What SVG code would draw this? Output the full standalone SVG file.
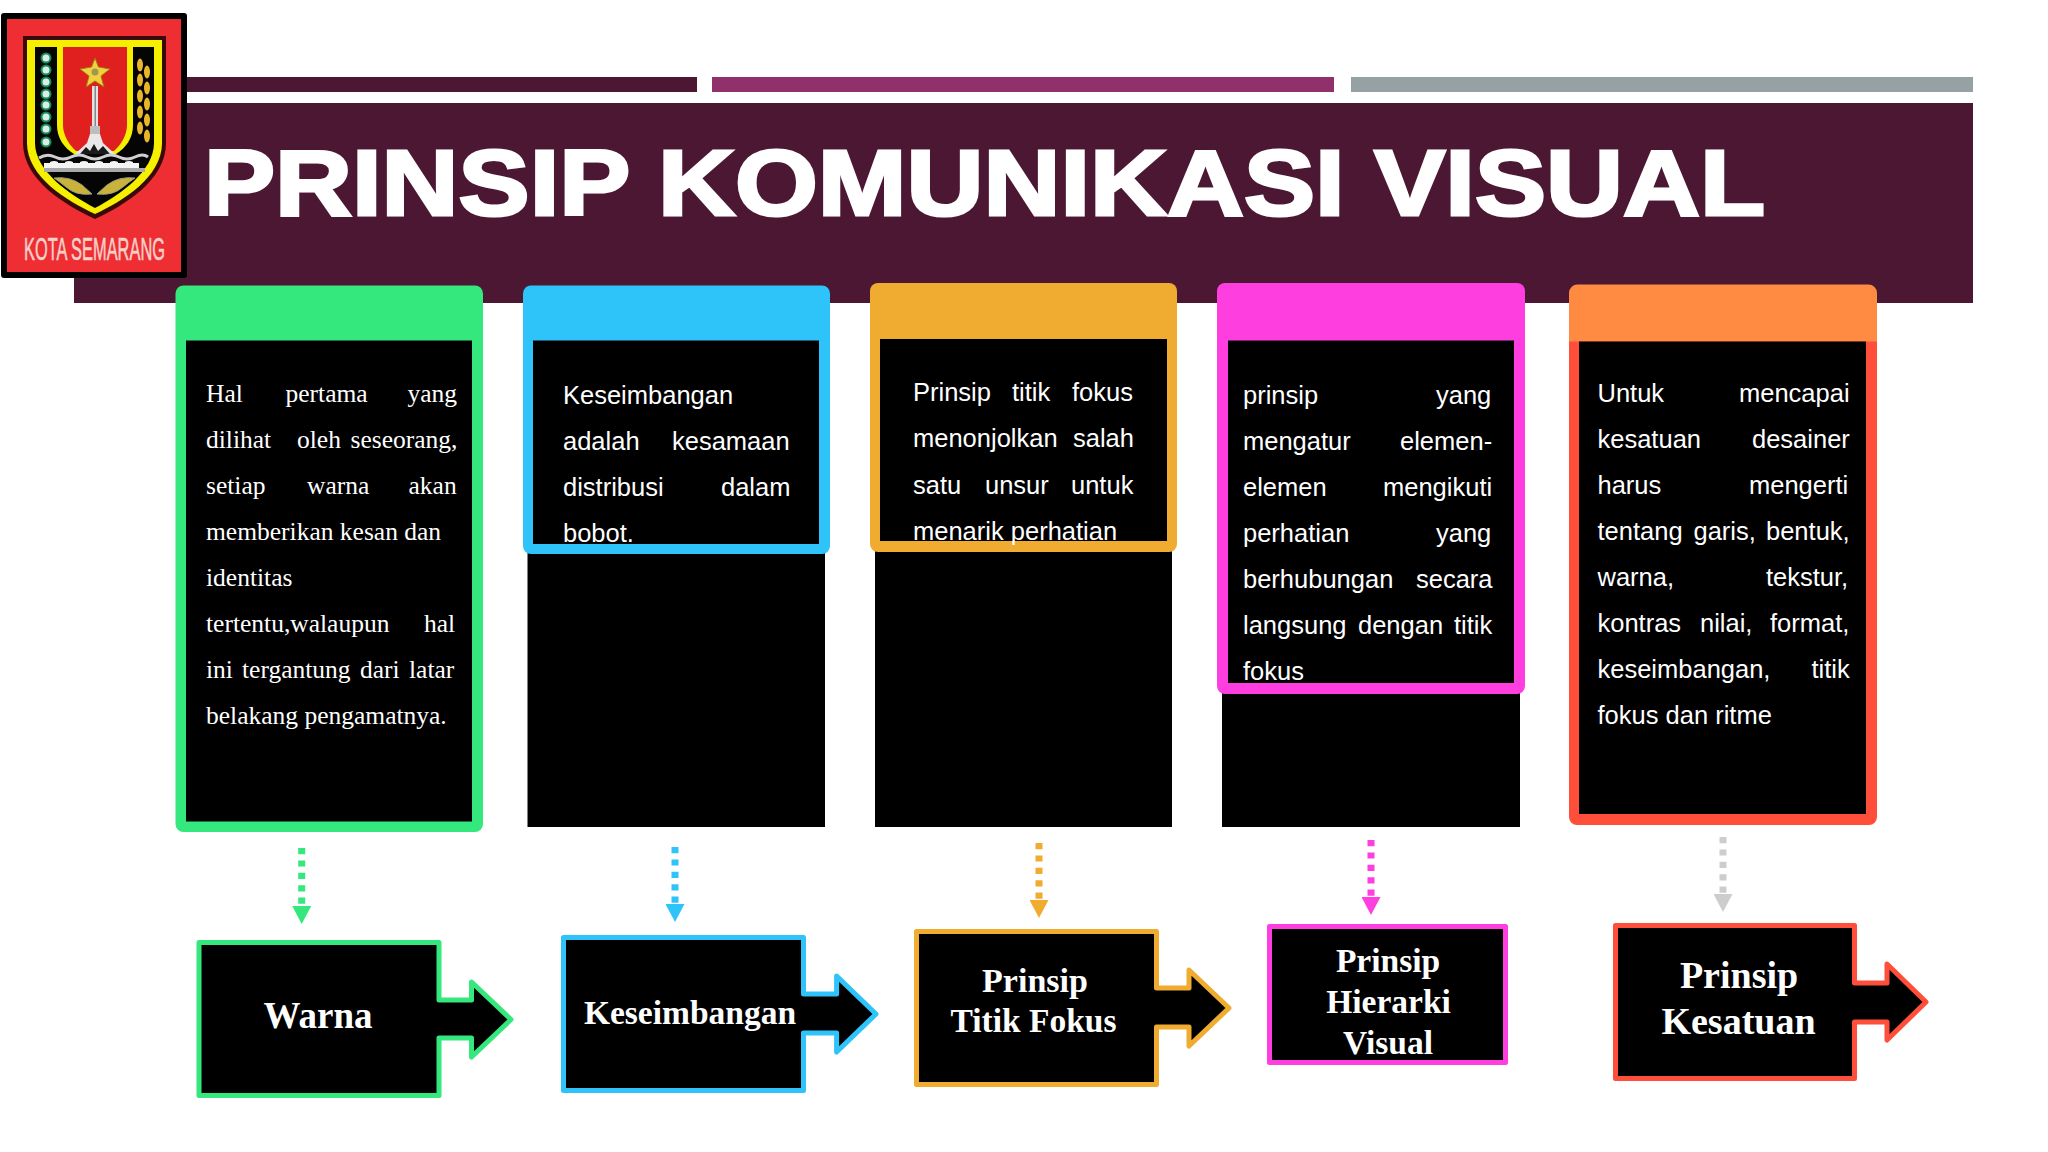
<svg xmlns="http://www.w3.org/2000/svg" width="2048" height="1152" viewBox="0 0 2048 1152">
<style>
.s{font-family:"Liberation Sans",Arial,sans-serif;font-size:25.5px;fill:#fff}
.t{font-family:"Liberation Serif","Times New Roman",serif;font-size:25.5px;fill:#fff}
.b{font-family:"Liberation Serif","Times New Roman",serif;font-weight:700;fill:#fff;text-anchor:middle}
.node{fill:#000;stroke-width:5;stroke-linejoin:round}
.dash{stroke-width:7;stroke-dasharray:6.2 6.2;fill:none}
</style>
<defs>
<marker id="mg" markerUnits="userSpaceOnUse" markerWidth="18" markerHeight="19" viewBox="0 -9.500 18 19" refX="0" refY="0" orient="auto"><path d="M0-9.500L18 0L0 9.500Z" fill="#34E87D"/></marker>
<marker id="mb" markerUnits="userSpaceOnUse" markerWidth="18" markerHeight="19" viewBox="0 -9.500 18 19" refX="0" refY="0" orient="auto"><path d="M0-9.500L18 0L0 9.500Z" fill="#2EC4FA"/></marker>
<marker id="mo" markerUnits="userSpaceOnUse" markerWidth="18" markerHeight="19" viewBox="0 -9.500 18 19" refX="0" refY="0" orient="auto"><path d="M0-9.500L18 0L0 9.500Z" fill="#F0AC30"/></marker>
<marker id="mp" markerUnits="userSpaceOnUse" markerWidth="18" markerHeight="19" viewBox="0 -9.500 18 19" refX="0" refY="0" orient="auto"><path d="M0-9.500L18 0L0 9.500Z" fill="#FF3EDF"/></marker>
<marker id="my" markerUnits="userSpaceOnUse" markerWidth="18" markerHeight="19" viewBox="0 -9.500 18 19" refX="0" refY="0" orient="auto"><path d="M0-9.500L18 0L0 9.500Z" fill="#CDCDCD"/></marker>
</defs>
<rect width="2048" height="1152" fill="#fff"/>
<g id="header">
<rect x="187" y="77" width="510" height="15" fill="#4B1732"/>
<rect x="712" y="77" width="622" height="15" fill="#91316B"/>
<rect x="1351" y="77" width="622" height="15" fill="#95A1A3"/>
<rect x="74" y="103" width="1899" height="200" fill="#4B1732"/>
<text x="204" y="215" font-family="'Liberation Sans',Arial,sans-serif" font-weight="700" font-size="93" fill="#fff" stroke="#fff" stroke-width="3" textLength="1561" lengthAdjust="spacingAndGlyphs">PRINSIP KOMUNIKASI VISUAL</text>
</g>
<g id="logo">
<rect x="1" y="13" width="186" height="265" rx="3" fill="#000"/>
<rect x="7" y="19" width="174" height="253" fill="#EE2E33"/>
<path d="M23 36H166V143C166 180 125 205 95 219C65 205 23 180 23 143Z" fill="#3a0a0a"/>
<path d="M27 40H162V143C162 177 123 201 95 214C67 201 27 177 27 143Z" fill="#F5F000"/>
<path d="M35 47H154V143C154 171 120 195 95 208C70 195 35 171 35 143Z" fill="#050505"/>
<path d="M57 45H133V125C133 138 126 148 116 154H74C64 148 57 138 57 125Z" fill="#F5F000"/>
<path d="M63 47H127V125C127 135 121 145 114 151H76C69 145 63 135 63 125Z" fill="#E0201F"/>
<path d="M75 154L87 143L90 134H100L103 143L115 154Z" fill="#E8E8E8"/>
<path d="M80 154L86 147L90 151L94 144L98 151L103 146L110 154Z" fill="#1a1a1a"/>
<rect x="92" y="86" width="6" height="43" fill="#E2E2E2"/>
<rect x="94.500" y="86" width="1.500" height="43" fill="#888"/>
<rect x="90" y="126" width="10" height="8" fill="#BDBDBD"/>
<path d="M95 58L98.500 67L110 69L101 76L104 87L95 81L86 87L89 76L80 69L91.500 67Z" fill="#F0D040" stroke="#A07810"/>
<circle cx="95" cy="72" r="3.500" fill="#9a9a50"/>
<g fill="#D8EFE6" stroke="#178A5A" stroke-width="2">
<circle cx="46" cy="58" r="4.500"/><circle cx="46" cy="70" r="4.500"/><circle cx="46" cy="82" r="4.500"/><circle cx="46" cy="94" r="4.500"/><circle cx="46" cy="105" r="4.500"/><circle cx="46" cy="117" r="4.500"/><circle cx="46" cy="129" r="4.500"/><circle cx="46" cy="142" r="4.500"/>
</g>
<g fill="#E9B52A">
<ellipse cx="140" cy="65" rx="3" ry="6.500"/><ellipse cx="147" cy="72" rx="3" ry="6.500"/><ellipse cx="140" cy="80" rx="3" ry="6.500"/><ellipse cx="147" cy="88" rx="3" ry="6.500"/><ellipse cx="140" cy="96" rx="3" ry="6.500"/><ellipse cx="147" cy="104" rx="3" ry="6.500"/><ellipse cx="140" cy="112" rx="3" ry="6.500"/><ellipse cx="147" cy="120" rx="3" ry="6.500"/><ellipse cx="140" cy="128" rx="3" ry="6.500"/><ellipse cx="147" cy="136" rx="3" ry="6.500"/>
</g>
<path d="M39 158Q47 153 55 157T71 157T87 157T103 157T119 157T135 157T148 157" fill="none" stroke="#CFCFCF" stroke-width="3"/>
<path d="M44 168V163h6v-1q4-2 8 0v1h7v-1q4-2 8 0v1h7v-1q4-2 8 0v1h7v-1q4-2 8 0v1h7v-1q4-2 8 0v1h7v-1q4-2 8 0v1h6v5Z" fill="#F4F4F4"/>
<rect x="44" y="168" width="101" height="4" fill="#A8A8A8"/>
<path d="M54 178Q70 176 82 185L92 194Q76 196 66 187Q60 182 54 178Z" fill="#C9B33A" stroke="#9a9a8a"/>
<path d="M135 178Q119 176 107 185L97 194Q113 196 123 187Q129 182 135 178Z" fill="#C9B33A" stroke="#9a9a8a"/>
<text x="24" y="260" font-family="'Liberation Sans',Arial,sans-serif" font-size="32" fill="#F8D0C8" stroke="#F8D0C8" stroke-width="0.600" textLength="141" lengthAdjust="spacingAndGlyphs">KOTA SEMARANG</text>
</g>
<g id="card-warna">
<rect x="175.500" y="285.500" width="307.500" height="546.500" rx="8" fill="#34E87D"/>
<rect x="186" y="340.500" width="286" height="481" fill="#000"/>
<g class="t">
<text y="401.500"><tspan x="206">Hal</tspan><tspan x="285.500">pertama</tspan><tspan x="407.500">yang</tspan></text>
<text y="447.500"><tspan x="206">dilihat</tspan><tspan x="297">oleh</tspan><tspan x="350.500">seseorang,</tspan></text>
<text y="493.500"><tspan x="206">setiap</tspan><tspan x="307">warna</tspan><tspan x="408.500">akan</tspan></text>
<text y="539.500"><tspan x="206">memberikan kesan dan</tspan></text>
<text y="585.500"><tspan x="206">identitas</tspan></text>
<text y="631.500"><tspan x="206">tertentu,walaupun</tspan><tspan x="424">hal</tspan></text>
<text y="677.500"><tspan x="206">ini</tspan><tspan x="242">tergantung</tspan><tspan x="360">dari</tspan><tspan x="409">latar</tspan></text>
<text y="723.500"><tspan x="206">belakang pengamatnya.</tspan></text>
</g>
</g>
<g id="card-keseimbangan">
<rect x="527.500" y="500" width="297.500" height="327" fill="#000"/>
<rect x="523" y="285.500" width="307" height="268.500" rx="8" fill="#2EC4FA"/>
<rect x="533" y="340.500" width="286" height="203.500" fill="#000"/>
<g class="s">
<text y="403.500"><tspan x="563">Keseimbangan</tspan></text>
<text y="449.500"><tspan x="563">adalah</tspan><tspan x="672">kesamaan</tspan></text>
<text y="496"><tspan x="563">distribusi</tspan><tspan x="721">dalam</tspan></text>
<text y="541.500"><tspan x="563">bobot.</tspan></text>
</g>
</g>
<g id="card-titik-fokus">
<rect x="875" y="500" width="297" height="327" fill="#000"/>
<rect x="870" y="283" width="307" height="269" rx="8" fill="#F0AC30"/>
<rect x="880" y="339" width="287" height="202" fill="#000"/>
<g class="s">
<text y="400.500"><tspan x="913">Prinsip</tspan><tspan x="1012">titik</tspan><tspan x="1072">fokus</tspan></text>
<text y="447"><tspan x="913">menonjolkan</tspan><tspan x="1073">salah</tspan></text>
<text y="493.500"><tspan x="913">satu</tspan><tspan x="985">unsur</tspan><tspan x="1071">untuk</tspan></text>
<text y="539.500"><tspan x="913">menarik perhatian</tspan></text>
</g>
</g>
<g id="card-hierarki">
<rect x="1222" y="600" width="298" height="227" fill="#000"/>
<rect x="1217" y="283" width="308" height="411" rx="8" fill="#FF3EDF"/>
<rect x="1228" y="340.500" width="286" height="342.500" fill="#000"/>
<g class="s">
<text y="403.500"><tspan x="1243">prinsip</tspan><tspan x="1436">yang</tspan></text>
<text y="449.500"><tspan x="1243">mengatur</tspan><tspan x="1400">elemen-</tspan></text>
<text y="496"><tspan x="1243">elemen</tspan><tspan x="1383">mengikuti</tspan></text>
<text y="541.500"><tspan x="1243">perhatian</tspan><tspan x="1436">yang</tspan></text>
<text y="587.500"><tspan x="1243">berhubungan</tspan><tspan x="1416">secara</tspan></text>
<text y="633.500"><tspan x="1243">langsung</tspan><tspan x="1358">dengan</tspan><tspan x="1454">titik</tspan></text>
<text y="679.500"><tspan x="1243">fokus</tspan></text>
</g>
</g>
<g id="card-kesatuan">
<rect x="1569" y="300" width="308" height="525" rx="8" fill="#FF4F3A"/>
<path d="M1569 341.500V293a8.500 8.500 0 0 1 8.500-8.500H1868.500a8.500 8.500 0 0 1 8.500 8.500V341.500Z" fill="#FF8A42"/>
<rect x="1579" y="341.500" width="287" height="472.500" fill="#000"/>
<g class="s">
<text y="401.500"><tspan x="1597.500">Untuk</tspan><tspan x="1739">mencapai</tspan></text>
<text y="447.500"><tspan x="1597.500">kesatuan</tspan><tspan x="1752">desainer</tspan></text>
<text y="493.500"><tspan x="1597.500">harus</tspan><tspan x="1749">mengerti</tspan></text>
<text y="539.500"><tspan x="1597.500">tentang</tspan><tspan x="1693.500">garis,</tspan><tspan x="1766">bentuk,</tspan></text>
<text y="585.500"><tspan x="1597.500">warna,</tspan><tspan x="1766">tekstur,</tspan></text>
<text y="631.500"><tspan x="1597.500">kontras</tspan><tspan x="1700">nilai,</tspan><tspan x="1770">format,</tspan></text>
<text y="677.500"><tspan x="1597.500">keseimbangan,</tspan><tspan x="1811.500">titik</tspan></text>
<text y="723.500"><tspan x="1597.500">fokus dan ritme</tspan></text>
</g>
</g>
<g id="connectors">
<path class="dash" d="M301.700 848V906" stroke="#34E87D" marker-end="url(#mg)"/>
<path class="dash" d="M675 847V904" stroke="#2EC4FA" marker-end="url(#mb)"/>
<path class="dash" d="M1039 843V900" stroke="#F0AC30" marker-end="url(#mo)"/>
<path class="dash" d="M1371 840V897" stroke="#FF3EDF" marker-end="url(#mp)"/>
<path class="dash" d="M1723 837V894" stroke="#CDCDCD" marker-end="url(#my)"/>
</g>
<g id="node-warna">
<path class="node" stroke="#34E87D" d="M199 942.500H439V1000H471.500V982L511 1019.500L471.500 1057V1038H439V1095.500H199Z"/>
<text class="b" x="318" y="1027.500" font-size="37">Warna</text>
</g>
<g id="node-keseimbangan">
<path class="node" stroke="#2EC4FA" d="M563.500 937.500H803.500V994H836.600V976L876 1014L836.600 1052V1033H803.500V1090.500H563.500Z"/>
<text class="b" x="690" y="1023.500" font-size="33.500">Keseimbangan</text>
</g>
<g id="node-titik-fokus">
<path class="node" stroke="#F0AC30" d="M916.500 931.500H1156.500V988H1189V970L1229 1008L1189 1046V1027H1156.500V1084.500H916.500Z"/>
<text class="b" x="1035" y="992" font-size="34">Prinsip</text>
<text class="b" x="1033.500" y="1032" font-size="33.500">Titik Fokus</text>
</g>
<g id="node-hierarki">
<rect class="node" stroke="#FF3EDF" x="1269.500" y="926.500" width="236" height="136"/>
<text class="b" x="1388" y="972" font-size="33.500">Prinsip</text>
<text class="b" x="1388.500" y="1013" font-size="33.500">Hierarki</text>
<text class="b" x="1388" y="1054" font-size="33.500">Visual</text>
</g>
<g id="node-kesatuan">
<path class="node" stroke="#FF4F3A" d="M1615.500 925.500H1854.500V983H1887V964L1926 1002L1887 1040V1022H1854.500V1078.500H1615.500Z"/>
<text class="b" x="1739" y="988" font-size="38">Prinsip</text>
<text class="b" x="1738.500" y="1034" font-size="38">Kesatuan</text>
</g>
</svg>
